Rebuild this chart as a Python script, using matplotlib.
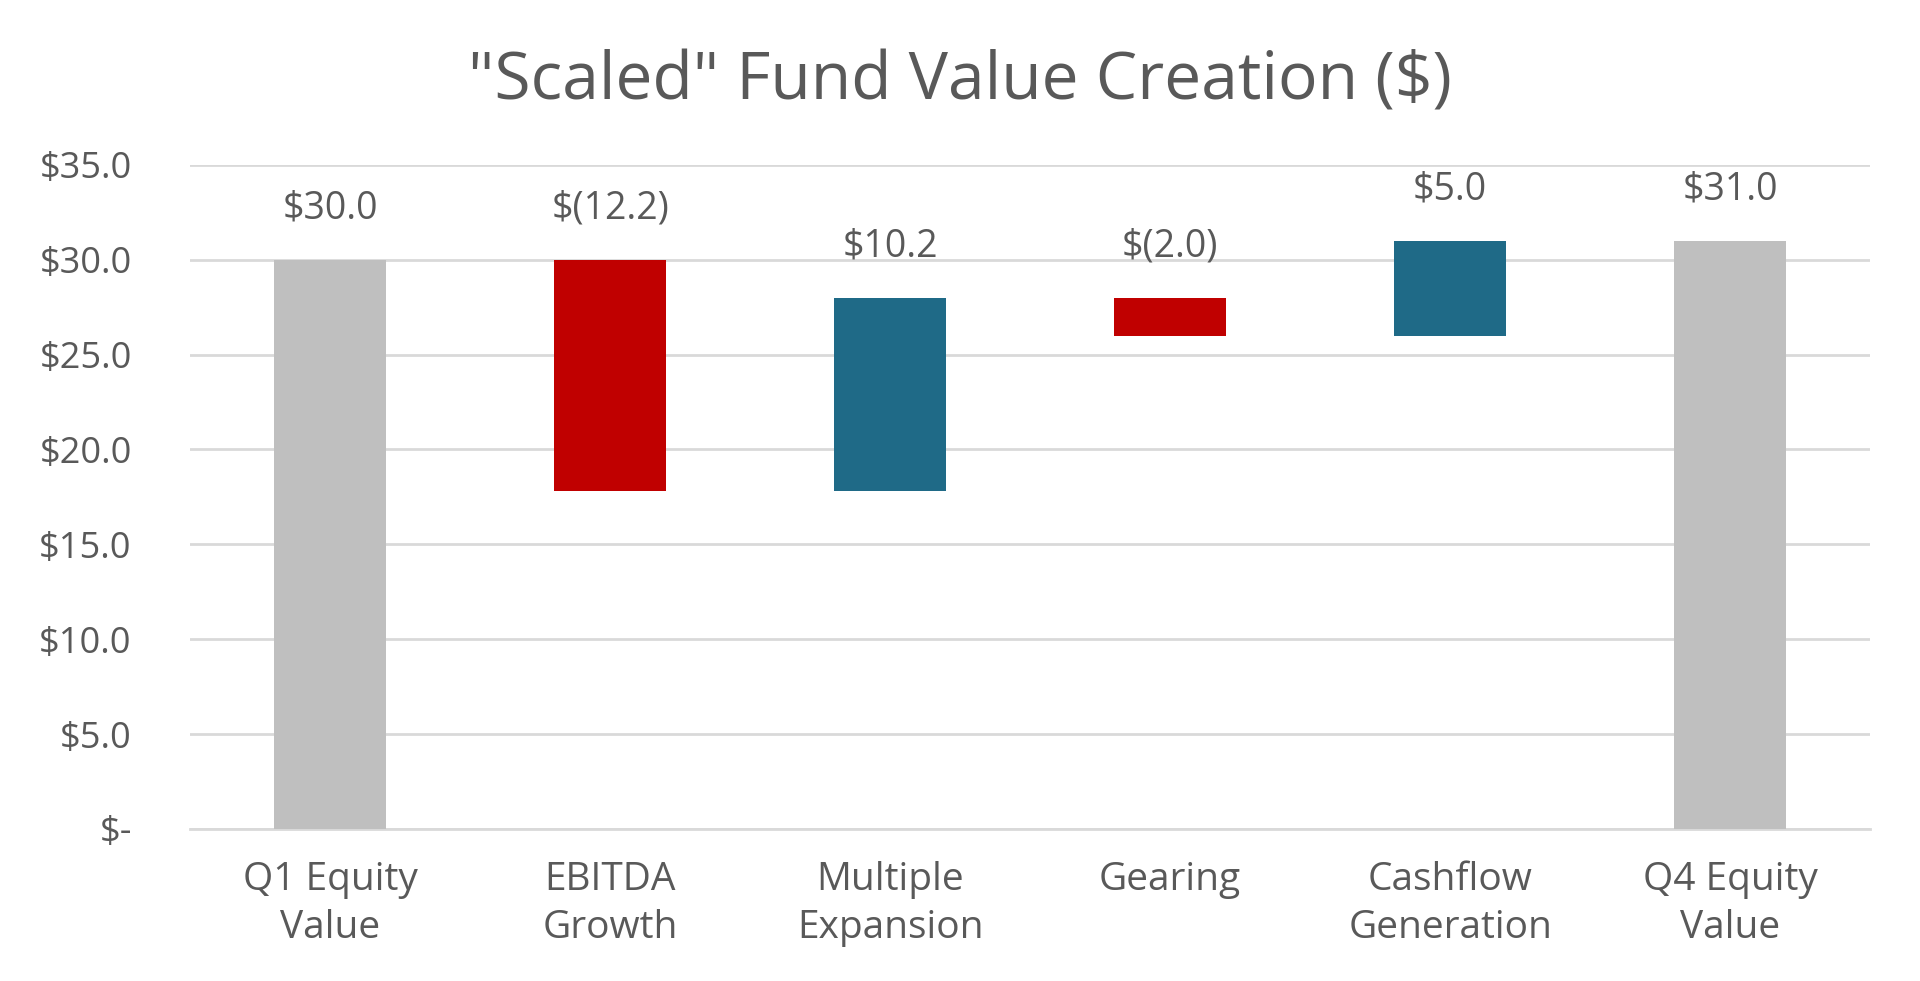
import numpy as np
import matplotlib.pyplot as plt

# Waterfall data
categories = ["Q1 Equity\nValue", "EBITDA\nGrowth", "Multiple\nExpansion",
              "Gearing", "Cashflow\nGeneration", "Q4 Equity\nValue"]
changes = [30.0, -12.2, 10.2, -2.0, 5.0, 31.0]
is_total = [True, False, False, False, False, True]

grey = '#BFBFBF'
red = '#C00000'
teal = '#1F6A87'
text_col = '#595959'
grid_col = '#D9D9D9'

plt.rcParams['font.family'] = ['Open Sans', 'DejaVu Sans']

# work out bar bottoms / heights
bottoms, heights, colors = [], [], []
running = 0.0
for v, tot in zip(changes, is_total):
    if tot:
        bottoms.append(0.0)
        heights.append(v)
        colors.append(grey)
        running = v
    else:
        new = running + v
        bottoms.append(min(running, new))
        heights.append(abs(v))
        colors.append(teal if v > 0 else red)
        running = new

def fmt(v):
    if v < 0:
        return f"$({abs(v):.1f})"
    return f"${v:.1f}"

fig = plt.figure(figsize=(19.2, 9.81), dpi=100)
ax = fig.add_axes([0.099, 0.155, 0.875, 0.677])

x = np.arange(len(categories))
ax.bar(x, heights, bottom=bottoms, width=0.4, color=colors, zorder=3)

for xi, b, h, v in zip(x, bottoms, heights, changes):
    ax.annotate(fmt(v), (xi, b + h), xytext=(0, 37), textcoords='offset points',
                ha='center', va='center', fontsize=27, color=text_col)

ax.set_xlim(-0.5, len(categories) - 0.5)
ax.set_ylim(0, 35)
yt = np.arange(0, 36, 5)
ax.set_yticks(yt)
ax.set_yticklabels(["$-"] + [f"${t:.1f}" for t in yt[1:]])
ax.set_xticks(x)
ax.set_xticklabels(categories, linespacing=1.35)
ax.tick_params(axis='y', length=0, pad=42, labelsize=26, labelcolor=text_col)
ax.tick_params(axis='x', length=0, pad=23, labelsize=28, labelcolor=text_col)

ax.grid(axis='y', color=grid_col, linewidth=2, zorder=0)
for s in ['top', 'right', 'left']:
    ax.spines[s].set_visible(False)
ax.spines['bottom'].set_color(grid_col)
ax.spines['bottom'].set_linewidth(2)

fig.suptitle('"Scaled" Fund Value Creation ($)', x=0.5, y=0.916, va='center',
             fontsize=47.5, color=text_col)

fig.savefig('out.png', dpi=100, facecolor='white')
